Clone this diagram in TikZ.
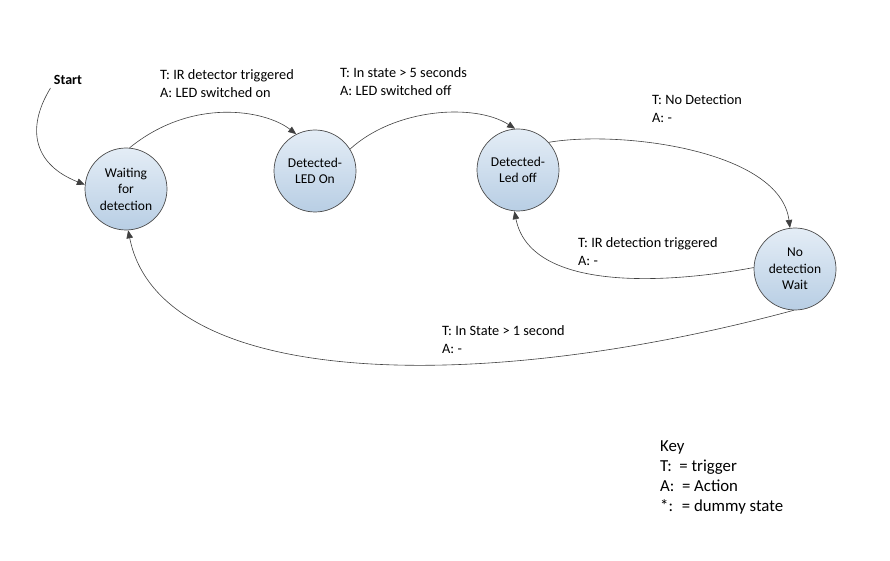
\documentclass[tikz,border=0pt]{standalone}
\usepackage{fontspec}
\setmainfont{Carlito}
\usepackage{tikz}
\usetikzlibrary{arrows.meta}
\definecolor{stateTop}{HTML}{E4EDF6}
\definecolor{stateBot}{HTML}{B8CEE4}

\begin{document}
\begin{tikzpicture}[x=1pt,y=-1pt,line cap=round,line join=round,>={Triangle[length=8pt,width=6.5pt]},
    state/.style={circle,draw=black!70,line width=0.7pt,top color=stateTop,bottom color=stateBot,
      minimum size=82pt,inner sep=0pt,align=center,font=\fontsize{13.5}{16.5}\selectfont},
    trans/.style={->,color=black!75,line width=0.6pt},
    lbl/.style={anchor=north west,inner sep=0pt,align=left,font=\fontsize{14.3}{18}\selectfont}]
        \useasboundingbox (0,0) rectangle (890,561);
        % states
        \node[font=\bfseries\fontsize{14}{16}\selectfont] (start) at (68,80) {Start};
        \node[state] (wait) at (126,189) {Waiting\\for\\detection};
        \node[state] (ledon) at (315,171) {Detected-\\LED On};
        \node[state] (ledoff) at (518,170) {Detected-\\Led off};
        \node[state] (nodet) at (795,269) {No\\detection\\Wait};
        % transitions
        \draw[trans] (start.south west) .. controls (25,130) and (35,165) .. (wait.174);
        \draw[trans] (wait.85) .. controls (192,97) and (265,110) .. (ledon.117);
        \draw[trans] (ledon.32) .. controls (395,108) and (475,103) .. (ledoff.94);
        \draw[trans] (ledoff.42) .. controls (620,130) and (780,150) .. (nodet.97);
        \draw[trans] (nodet.178) .. controls (660,285) and (530,290) .. (ledoff.265);
        \draw[trans] (nodet.268) .. controls (480,395) and (160,390) .. (wait.273);
        % labels
        \node[lbl] (trig1) at (160,69) {T: IR detector triggered\\A: LED switched on};
        \node[lbl] (trig2) at (340,67) {T: In state > 5 seconds\\A: LED switched off};
        \node[lbl] (trig3) at (652,94) {T: No Detection\\A: -};
        \node[lbl] (trig4) at (578,237) {T: IR detection triggered\\A: -};
        \node[lbl] (trig5) at (442,325) {T: In State > 1 second\\A: -};
        \node[lbl,font=\fontsize{16.8}{20}\selectfont] (key) at (660,441) {Key\\T:~ = trigger\\A:~ = Action\\*:~ = dummy state};
      \end{tikzpicture}
\end{document}
